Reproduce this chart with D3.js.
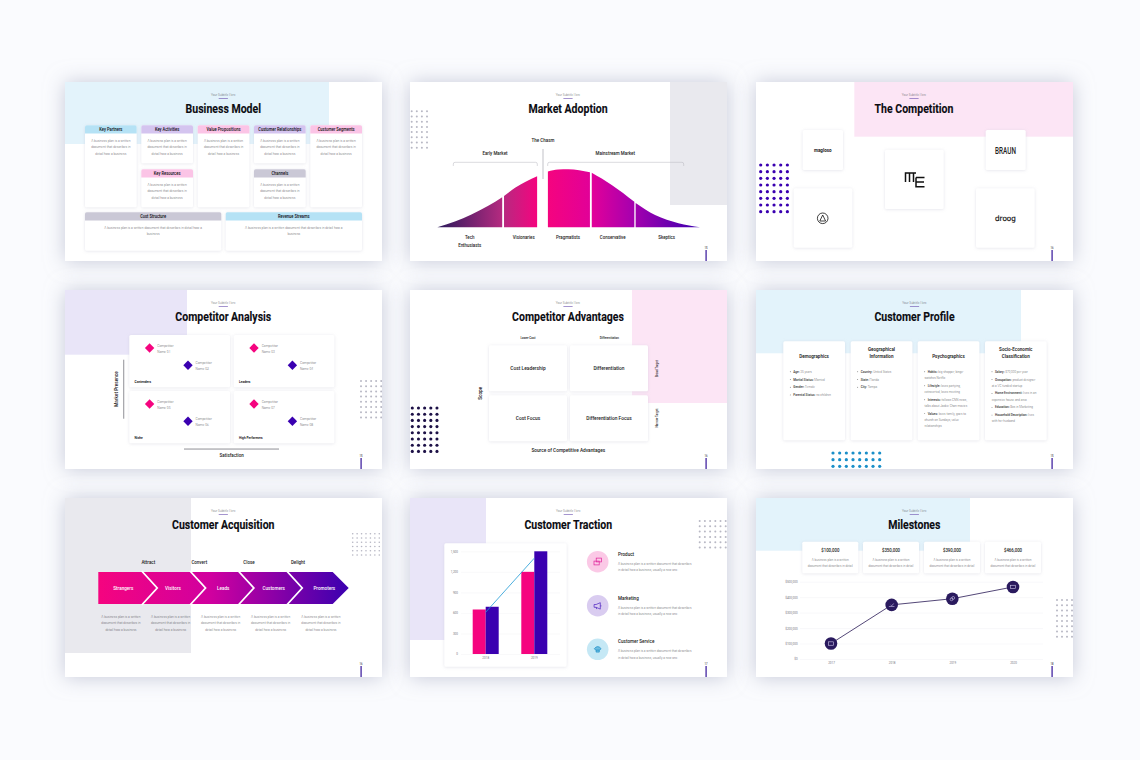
<!DOCTYPE html>
<html>
<head>
<meta charset="utf-8">
<title>Slides</title>
<script src="https://cdn.jsdelivr.net/npm/d3@7"></script>
<style>
  html, body { margin: 0; padding: 0; background: #fafbfe; }
  svg { display: block; }
  text { font-family: Roboto, sans-serif; }
</style>
</head>
<body>
<svg id="chart" width="1140" height="760"></svg>
<script>
// slide titles, left to right and top to bottom
var slideTitles = ["Business Model", "Market Adoption", "The Competition", "Competitor Analysis", "Competitor Advantages", "Customer Profile", "Customer Acquisition", "Customer Traction", "Milestones"];
var slideNumbers = ["", "15", "16", "15", "16", "15", "16", "17", "18"];

// business model
var blurb = ["A business plan is a written", "document that describes in", "detail how a business"];
var wideBlurb = ["A business plan is a written document that describes in detail how a", "business"];
var modelColumns = ["Key Partners", "Key Activities", "Value Propositions", "Customer Relationships", "Customer Segments"];
var modelLower = ["Key Resources", "Channels"];
var modelWide = ["Cost Structure", "Revenue Streams"];

// market adoption curve: share of width, share of peak height
var adoptionSegments = ["Tech Enthusiasts", "Visionaries", "Pragmatists", "Conservative", "Skeptics"];
var adoptionX = [
  [0, 6.7, 13, 19.4, 24.7],
  [25.4, 29.6, 38],
  [42.1, 46, 49.9, 54, 58.1],
  [58.8, 66.4, 75],
  [75.5, 82.9, 91.8, 100]
];
var adoptionY = [
  [0, 0.1, 0.22, 0.37, 0.52],
  [0.54, 0.68, 0.88],
  [0.96, 0.995, 1, 0.985, 0.95],
  [0.94, 0.73, 0.44],
  [0.42, 0.21, 0.07, 0]
];

// competition logos
var logoNames = ["magloso", "BRAUN", "droog"];

// competitor analysis
var quadrants = ["Contenders", "Leaders", "Niche", "High Performers"];
var competitorNames = [["01", "02"], ["03", "04"], ["05", "06"], ["07", "08"]];

// competitor advantages
var advantageCells = ["Cost Leadership", "Differentiation", "Cost Focus", "Differentiation Focus"];
var advantageColumns = ["Lower Cost", "Differentiation"];
var advantageRows = ["Broad Target", "Narrow Target"];

// customer profile, each item is [label, first line, more lines...]
var profileTitles = [["Demographics"], ["Geographical", "Information"], ["Psychographics"], ["Socio-Economic", "Classification"]];
var profileDemographics = [["Age:", "35 years"], ["Marital Status:", "Married"], ["Gender:", "Female"], ["Parental Status:", "no children"]];
var profileGeographic = [["Country:", "United States"], ["State:", "Florida"], ["City:", "Tampa"]];
var profilePsycho = [
  ["Habits:", "big shopper, binge-", "watches Netflix"],
  ["Lifestyle:", "loves partying,", "extroverted, loves meeting"],
  ["Interests:", "follows CNN news,", "talks about Jackie Chan movies"],
  ["Values:", "loves family, goes to", "church on Sundays, value", "relationships"]
];
var profileSocio = [
  ["Salary:", "$70,000 per year"],
  ["Occupation:", "product designer", "at a VC funded startup"],
  ["Home Environment:", "lives in an", "expensive house and area"],
  ["Education:", "Bcs in Marketing"],
  ["Household Description:", "lives", "with her husband"]
];

// customer acquisition
var funnelStages = ["Strangers", "Visitors", "Leads", "Customers", "Promoters"];
var funnelActions = ["Attract", "Convert", "Close", "Delight"];

// customer traction
var tractionYears = ["2018", "2019"];
var tractionSeries = ["a", "b"];
var tractionA = [650, 1200];
var tractionB = [690, 1500];
var tractionLine = [610, 1400];
var tractionTicks = [0, 300, 600, 900, 1200, 1500];
var tractionItems = ["Product", "Marketing", "Customer Service"];
var tractionBlurb = ["A business plan is a written document that describes", "in detail how a business, usually a new one."];

// milestones
var milestoneYears = ["2017", "2018", "2019", "2020"];
var milestoneValues = [100000, 350000, 390000, 466000];
var milestoneLabels = ["$100,000", "$350,000", "$390,000", "$466,000"];
var milestoneTicks = [0, 100000, 200000, 300000, 400000, 500000];
var milestoneBlurb = ["A business plan is a written", "document that describes in detail"];

var pink = "#f5047f", purple = "#3a00b0", navy = "#2a1a5e";
var grey = "#8d8d96", ink = "#0c0c12";

var bodySize = 3.3;
var bodyText = { weight: 300, colour: "#5f5f68" };
var bodyLeft = { weight: 300, colour: "#5f5f68", anchor: "start" };
var midLabel = { weight: 500, colour: "#222", cond: 0.9 };

var svg = d3.select("#chart");
var defs = svg.append("defs");

/// shadows
function addShadow(id, blur, colour, opacity) {
  var f = defs.append("filter").attr("id", id)
    .attr("x", "-30%").attr("y", "-30%").attr("width", "160%").attr("height", "160%");
  f.append("feDropShadow").attr("dx", 0).attr("dy", 0.5).attr("stdDeviation", blur)
    .attr("flood-color", colour).attr("flood-opacity", opacity);
}
addShadow("slideShadow", 10, "#a9aec2", 0.65);
addShadow("cardShadow", 1.6, "#b9b9cc", 0.4);

/// gradients
function addGradient(id, stops, x1, x2) {
  var g = defs.append("linearGradient").attr("id", id)
    .attr("gradientUnits", "userSpaceOnUse")
    .attr("x1", x1).attr("x2", x2).attr("y1", 0).attr("y2", 0);
  stops.forEach(function (s) {
    g.append("stop").attr("offset", s[0]).attr("stop-color", s[1]);
  });
}
addGradient("adoptionLeft", [[0, "#2b1a5c"], [0.65, "#b52a80"], [1, pink]], 27.3, 127.3);
addGradient("adoptionRight", [[0, pink], [0.3, "#e0009a"], [0.55, "#a800ae"], [1, purple]], 138, 290);
addGradient("funnelFill", [[0, pink], [0.45, "#d0009f"], [1, purple]], 33, 284);

/// text helper, cond squeezes Roboto to look like the condensed cut in the picture
function label(g, str, x, y, size, opts) {
  opts = opts || {};
  var t = g.append("text").attr("x", x).attr("y", y)
    .attr("font-size", size)
    .attr("font-weight", opts.weight || 400)
    .attr("fill", opts.colour || grey)
    .attr("text-anchor", opts.anchor || "middle")
    .text(str);
  if (opts.family) t.style("font-family", opts.family);
  if (opts.rotate) t.attr("transform", "rotate(" + opts.rotate + " " + x + " " + y + ")");
  if (opts.heavy) t.attr("stroke", opts.colour).attr("stroke-width", opts.heavy);
  if (opts.cond) {
    var w = t.node().getComputedTextLength();
    t.attr("textLength", w * opts.cond).attr("lengthAdjust", "spacingAndGlyphs");
  }
  return t;
}

function lines(g, list, x, y, step, size, opts) {
  list.forEach(function (s, i) { label(g, s, x, y + i * step, size, opts); });
}

function card(g, x, y, w, h) {
  return g.append("rect").attr("x", x).attr("y", y).attr("width", w).attr("height", h)
    .attr("rx", 1.6).attr("fill", "#fff").attr("filter", "url(#cardShadow)");
}

function dots(g, x0, y0, dx, dy, cols, rows, r, colour) {
  d3.range(rows).forEach(function (j) {
    d3.range(cols).forEach(function (i) {
      g.append("circle").attr("cx", x0 + i * dx).attr("cy", y0 + j * dy).attr("r", r).attr("fill", colour);
    });
  });
}

function block(g, x, y, w, h, colour) {
  g.append("rect").attr("x", x).attr("y", y).attr("width", w).attr("height", h).attr("fill", colour);
}

/// build the nine slide frames, returns the content group
var slideW = 317, slideH = 179;
var slideX = [65, 410, 756], slideY = [82, 290, 498];

function makeSlide(i) {
  var x = slideX[i % 3], y = slideY[Math.floor(i / 3)];
  var outer = svg.append("g").attr("transform", "translate(" + x + "," + y + ")");
  outer.append("rect").attr("width", slideW).attr("height", slideH).attr("fill", "#fff").attr("filter", "url(#slideShadow)");
  defs.append("clipPath").attr("id", "clip" + i).append("rect").attr("width", slideW).attr("height", slideH);
  return outer.append("g").attr("clip-path", "url(#clip" + i + ")");
}

function slideHeader(g, i, cx) {
  label(g, "Your Subtitle Here", cx, 13.6, 3.1, { weight: 300, colour: "#5f5f68" });
  g.append("rect").attr("x", cx - 4.6).attr("y", 16).attr("width", 9.2).attr("height", 0.6).attr("fill", "#6a4fb0");
  label(g, slideTitles[i], cx, 30.8, 13, { weight: 700, colour: ink, cond: 0.81, heavy: 0.12 });
  if (slideNumbers[i]) {
    label(g, slideNumbers[i], 296, 166.5, 2.6, { colour: "#444", weight: 500 });
    block(g, 295.4, 168, 1.4, 11, "#5236a8");
  }
}

var slides = slideTitles.map(function (d, i) { return makeSlide(i); });

/// BUSINESS MODEL
(function () {
  var g = slides[0];
  block(g, 0, 0, 264, 62, "#e3f3fb");
  slideHeader(g, 0, 158.3);
  var colX = [20, 76.3, 132.7, 189, 245.3];
  var colW = 51.7;
  var headColours = ["#b5e2f5", "#d4c4ef", "#fbc4e6", "#d4c4ef", "#fbc4e6"];

  function modelCard(x, y, w, h, head, colour, text) {
    card(g, x, y, w, h);
    g.append("path")
      .attr("d", "M" + x + "," + (y + 8.2) + "V" + (y + 1.6) + "q0,-1.6 1.6,-1.6H" + (x + w - 1.6) + "q1.6,0 1.6,1.6V" + (y + 8.2) + "Z")
      .attr("fill", colour);
    label(g, head, x + w / 2, y + 5.7, 4.7, { weight: 500, colour: ink, cond: 0.86 });
    lines(g, text, x + w / 2, y + 16.2, 6.6, bodySize, bodyText);
  }

  modelColumns.forEach(function (name, i) {
    var short = i === 1 || i === 3;
    modelCard(colX[i], 43.3, colW, short ? 38 : 82, name, headColours[i], blurb);
  });
  modelCard(colX[1], 87.3, colW, 38, modelLower[0], "#fbc4e6", blurb);
  modelCard(colX[3], 87.3, colW, 38, modelLower[1], "#cac8d6", blurb);
  modelCard(20, 130.3, 136.3, 38.4, modelWide[0], "#cac8d6", wideBlurb);
  modelCard(160.7, 130.3, 136.3, 38.4, modelWide[1], "#b5e2f5", wideBlurb);
})();

/// MARKET ADOPTION
(function () {
  var g = slides[1];
  block(g, 260, 0, 57, 123, "#e9e9ee");
  slideHeader(g, 1, 158);
  dots(g, 1.7, 29.3, 5.1, 5.2, 4, 8, 1, "#b8b8c4");

  label(g, "The Chasm", 133, 60, 5, midLabel);
  label(g, "Early Market", 85, 73.4, 5, midLabel);
  label(g, "Mainstream Market", 205.3, 73.4, 5, midLabel);

  // brackets and chasm marker
  [[43.3, 127.3], [137.7, 273.7]].forEach(function (b) {
    g.append("path")
      .attr("d", "M" + b[0] + ",84V" + 82 + "q0,-1.7 1.7,-1.7H" + (b[1] - 1.7) + "q1.7,0 1.7,1.7V84")
      .attr("fill", "none").attr("stroke", "#b5b5bc").attr("stroke-width", 0.5);
  });
  block(g, 132.5, 67, 1, 30, "#c2c2c8");

  var x = d3.scaleLinear().domain([0, 100]).range([27.3, 290]);
  var y = d3.scaleLinear().domain([0, 1]).range([145.3, 87.3]);
  var area = d3.area()
    .x(function (d) { return x(d[0]); })
    .y0(y(0))
    .y1(function (d) { return y(d[1]); })
    .curve(d3.curveMonotoneX);

  adoptionSegments.forEach(function (name, i) {
    var pts = d3.zip(adoptionX[i], adoptionY[i]);
    g.append("path").datum(pts).attr("d", area)
      .attr("fill", i < 2 ? "url(#adoptionLeft)" : "url(#adoptionRight)");
  });

  var labelX = [59.7, 113.7, 158, 202.7, 256.7];
  lines(g, ["Tech", "Enthusiasts"], labelX[0], 157.3, 7.4, 4.9, midLabel);
  adoptionSegments.slice(1).forEach(function (name, i) {
    label(g, name, labelX[i + 1], 157.3, 4.9, midLabel);
  });
})();

/// THE COMPETITION
(function () {
  var g = slides[2];
  block(g, 98.3, 0, 220, 54.7, "#fce5f5");
  slideHeader(g, 2, 158);
  dots(g, 4.7, 83, 6.67, 6.67, 5, 8, 1.6, purple);

  card(g, 46.7, 48, 40.3, 40);
  card(g, 229.7, 48, 40, 40);
  card(g, 129, 67.7, 58.7, 59.3);
  card(g, 37.7, 106.3, 58.6, 59.4);
  card(g, 220, 106.3, 58.7, 59.4);

  label(g, logoNames[0], 66.8, 69.6, 4.8, { weight: 700, colour: "#222", cond: 0.95 });
  label(g, logoNames[1], 249.5, 71.8, 8.8, { weight: 500, colour: "#222", cond: 0.72 });
  label(g, logoNames[2], 249.4, 138.6, 7.6, { weight: 400, colour: "#111", family: "'DejaVu Sans'", cond: 0.95, heavy: 0.2 });

  // the ME mark
  g.append("path")
    .attr("d", "M149.5,100V91H160M153.5,100V91M157.5,100V91M160,95.5V104.7H168.5M160,95.5H168.5M160,100H168")
    .attr("fill", "none").attr("stroke", "#111").attr("stroke-width", 1.5);
  // the circled A mark
  g.append("circle").attr("cx", 66.7).attr("cy", 136.3).attr("r", 5.3)
    .attr("fill", "none").attr("stroke", "#111").attr("stroke-width", 0.8);
  g.append("path").attr("d", "M63.8,139L66.7,133L69.6,139Z")
    .attr("fill", "none").attr("stroke", "#111").attr("stroke-width", 0.8);
})();

/// COMPETITOR ANALYSIS
(function () {
  var g = slides[3];
  block(g, 0, 0, 122, 64.7, "#e9e5f8");
  slideHeader(g, 3, 158.3);
  dots(g, 296, 91, 5.05, 5.2, 5, 8, 1, "#b8b8c4");

  var cellX = [64.3, 168.7], cellY = [45, 101];
  var diamond = d3.symbol().type(d3.symbolSquare).size(44);

  quadrants.forEach(function (name, i) {
    var cx = cellX[i % 2], cy = cellY[Math.floor(i / 2)];
    card(g, cx, cy, 100.7, 52.3);
    [[20.3, 13, pink, 28, 12], [58.7, 30.3, purple, 66.3, 29]].forEach(function (m, k) {
      g.append("path").attr("d", diamond)
        .attr("transform", "translate(" + (cx + m[0]) + "," + (cy + m[1]) + ") rotate(45)")
        .attr("fill", m[2]);
      lines(g, ["Competitor", "Name " + competitorNames[i][k]], cx + m[3], cy + m[4], 6.2, bodySize, bodyLeft);
    });
    label(g, name, cx + 5.3, cy + 48.3, 3.2, { anchor: "start", weight: 600, colour: ink });
  });

  block(g, 58, 69.7, 1.3, 59, "#a9a9ae");
  block(g, 119, 158.4, 95, 1.3, "#a9a9ae");
  label(g, "Market Presence", 53.4, 99, 5.2, { weight: 500, colour: "#222", rotate: -90, cond: 0.9 });
  label(g, "Satisfaction", 166.7, 167.2, 5, midLabel);
})();

/// COMPETITOR ADVANTAGES
(function () {
  var g = slides[4];
  block(g, 222, 0, 95, 113, "#fce5f5");
  slideHeader(g, 4, 158);
  dots(g, 2.3, 118, 6.17, 6.2, 5, 8, 1.55, "#1d1147");

  var cellX = [79, 160], cellY = [55.3, 105.3];
  advantageCells.forEach(function (name, i) {
    var cx = cellX[i % 2], cy = cellY[Math.floor(i / 2)];
    card(g, cx, cy, 78, 46);
    label(g, name, cx + 39, cy + 25, 5.4, midLabel);
  });
  advantageColumns.forEach(function (name, i) {
    label(g, name, [118, 199.3][i], 49.2, 3, { weight: 500, colour: "#222" });
  });
  advantageRows.forEach(function (name, i) {
    label(g, name, 247.6, [78.7, 128][i], 3, { weight: 500, colour: "#222", rotate: -90 });
  });
  label(g, "Scope", 71.6, 103.3, 5.2, { weight: 500, colour: "#222", rotate: -90, cond: 0.9 });
  label(g, "Source of Competitive Advantages", 158.3, 162.4, 5.3, midLabel);
})();

/// CUSTOMER PROFILE
(function () {
  var g = slides[5];
  block(g, 0, 0, 265, 63.3, "#e3f3fb");
  slideHeader(g, 5, 158.5);
  dots(g, 77, 163, 6.67, 6.67, 8, 3, 1.6, "#1a8fc9");

  var cardX = [27.3, 94.7, 161.7, 229];
  var lists = [profileDemographics, profileGeographic, profilePsycho, profileSocio];

  cardX.forEach(function (cx, i) {
    card(g, cx, 51.3, 61.7, 99);
    var head = profileTitles[i];
    var y0 = head.length === 1 ? 68 : 61.4;
    lines(g, head, cx + 30.8, y0, 6.7, 5.2, { weight: 600, colour: "#222", cond: 0.88 });

    var y = 82.8;
    lists[i].forEach(function (item) {
      g.append("circle").attr("cx", cx + 7).attr("cy", y - 1).attr("r", 0.45).attr("fill", "#444");
      var t = g.append("text").attr("x", cx + 10).attr("y", y).attr("font-size", 3.1).attr("font-weight", 300).attr("fill", "#5f5f68");
      t.append("tspan").attr("font-weight", 500).attr("fill", "#333").text(item[0] + " ");
      t.append("tspan").text(item[1]);
      item.slice(2).forEach(function (s) {
        y += 6.25;
        label(g, s, cx + 6.7, y, 3.1, bodyLeft);
      });
      y += 7.7;
    });
  });
})();

/// CUSTOMER ACQUISITION
(function () {
  var g = slides[6];
  block(g, 0, 0, 126, 155, "#e9e9ee");
  slideHeader(g, 6, 158.3);
  dots(g, 287.7, 35.7, 4.43, 4.27, 7, 6, 0.8, "#b5b5c2");

  g.append("path").attr("d", "M33.3,74H267.7L283.7,90L267.7,106H33.3Z").attr("fill", "url(#funnelFill)");
  [76.7, 125, 173.3, 221.7].forEach(function (x) {
    g.append("path").attr("d", "M" + x + ",73L" + (x + 15.5) + ",90L" + x + ",107")
      .attr("fill", "none").attr("stroke", "#fff").attr("stroke-width", 1.8);
  });

  var stageX = [58.3, 108, 158.3, 208.7, 259.3];
  funnelStages.forEach(function (name, i) {
    label(g, name, stageX[i], 92, 5, { weight: 500, colour: "#fff", cond: 0.92 });
  });
  var actionX = [83.3, 134.3, 184, 233];
  funnelActions.forEach(function (name, i) {
    label(g, name, actionX[i], 65.8, 5, midLabel);
  });
  var noteX = [56, 105.7, 155.7, 205.7, 256];
  noteX.forEach(function (x) {
    lines(g, blurb, x, 119.6, 6.6, bodySize, bodyText);
  });
})();

/// CUSTOMER TRACTION
(function () {
  var g = slides[7];
  block(g, 0, 0, 76, 142, "#e9e5f8");
  slideHeader(g, 7, 158.3);
  dots(g, 289.7, 23, 5.2, 5.3, 6, 6, 1, "#b8b8c4");
  card(g, 34.3, 45.3, 122.4, 123.4);

  var x = d3.scaleBand().domain(tractionYears).range([51.4, 148.6]);
  var y = d3.scaleLinear().domain([0, 1500]).range([156, 53.3]);

  // axes first so that the bars sit on the grid
  var yAxis = g.append("g").attr("transform", "translate(51,0)")
    .call(d3.axisLeft(y).tickValues(tractionTicks).tickSize(-99).tickPadding(3));
  var xAxis = g.append("g").attr("transform", "translate(0,156)")
    .call(d3.axisBottom(x).tickSize(0).tickPadding(3));
  [yAxis, xAxis].forEach(function (a) {
    a.select(".domain").remove();
    a.selectAll("text").attr("font-size", 3).attr("fill", "#77777f").style("font-family", "Roboto");
    a.selectAll("line").attr("stroke", "#f2f2f5").attr("stroke-width", 0.5);
  });

  var inner = d3.scaleBand().domain(tractionSeries).range([-13, 13]);
  var values = { a: tractionA, b: tractionB };
  var colours = { a: pink, b: purple };
  tractionSeries.forEach(function (s) {
    g.selectAll(".bar-" + s).data(values[s]).enter().append("rect")
      .attr("class", "bar-" + s)
      .attr("x", function (d, i) { return x(tractionYears[i]) + x.bandwidth() / 2 + inner(s); })
      .attr("y", function (d) { return y(d); })
      .attr("width", inner.bandwidth())
      .attr("height", function (d) { return y(0) - y(d); })
      .attr("fill", colours[s]);
  });

  var line = d3.line()
    .x(function (d, i) { return x(tractionYears[i]) + x.bandwidth() / 2; })
    .y(function (d) { return y(d); });
  g.append("path").datum(tractionLine).attr("d", line)
    .attr("fill", "none").attr("stroke", "#1f9ad6").attr("stroke-width", 0.8);

  var rowY = [63.7, 107.7, 151.3];
  var discColours = ["#fbc9e6", "#d9ccf0", "#c5e8f5"];
  var iconColours = ["#e0229a", "#4a1fc0", "#1a8fc9"];
  tractionItems.forEach(function (name, i) {
    g.append("circle").attr("cx", 187.7).attr("cy", rowY[i]).attr("r", 10.8).attr("fill", discColours[i]);
    var ic = g.append("g").attr("transform", "translate(187.7," + rowY[i] + ")")
      .attr("fill", "none").attr("stroke", iconColours[i]).attr("stroke-width", 0.7);
    if (i === 0) {
      ic.append("rect").attr("x", -1.5).attr("y", -3.6).attr("width", 5.2).attr("height", 3.8);
      ic.append("rect").attr("x", -3.7).attr("y", -0.6).attr("width", 5.2).attr("height", 3.8);
    } else if (i === 1) {
      ic.append("path").attr("d", "M-3.6,-1.2V1.6H-1.6L2.6,3.4V-3L-1.6,-1.2ZM2.6,0.2H3.8M-1.6,1.6L-1,3.4");
    } else {
      ic.append("path").attr("d", "M-3.4,-0.6Q0,-4.8 3.4,-0.6L2,0.8H-2ZM-1.6,0.8V2.8H1.6V0.8").attr("fill", iconColours[i]).attr("fill-opacity", 0.5);
    }
    label(g, name, 208, rowY[i] - 6, 5.1, { anchor: "start", weight: 500, colour: "#222", cond: 0.9 });
    lines(g, tractionBlurb, 208, rowY[i] + 3, 6.6, 3.2, bodyLeft);
  });
})();

/// MILESTONES
(function () {
  var g = slides[8];
  block(g, 0, 0, 214, 52.7, "#e3f3fb");
  slideHeader(g, 8, 158.3);
  dots(g, 301, 102, 5, 5.25, 4, 8, 1, "#b8b8c4");

  var cardX = [46.3, 107, 168, 229];
  milestoneLabels.forEach(function (name, i) {
    card(g, cardX[i], 43.7, 56, 31.6);
    label(g, name, cardX[i] + 28, 53.7, 4.8, { weight: 500, colour: "#222", cond: 0.9 });
    lines(g, milestoneBlurb, cardX[i] + 28, 62.6, 6.6, 3.1, bodyText);
  });

  var x = d3.scalePoint().domain(milestoneYears).range([75, 257]);
  var y = d3.scaleLinear().domain([0, 500000]).range([161, 83.7]);

  var yAxis = g.append("g").attr("transform", "translate(44,0)")
    .call(d3.axisLeft(y).tickValues(milestoneTicks).tickSize(-243).tickPadding(2.4)
      .tickFormat(function (d) { return "$" + d3.format(",")(d); }));
  var xAxis = g.append("g").attr("transform", "translate(0,161)")
    .call(d3.axisBottom(x).tickSize(0).tickPadding(3));
  [yAxis, xAxis].forEach(function (a) {
    a.select(".domain").remove();
    a.selectAll("text").attr("font-size", 3).attr("fill", "#77777f").style("font-family", "Roboto");
    a.selectAll("line").attr("stroke", "#f0f0f4").attr("stroke-width", 0.5);
  });

  var line = d3.line()
    .x(function (d, i) { return x(milestoneYears[i]); })
    .y(function (d) { return y(d); });
  g.append("path").datum(milestoneValues).attr("d", line)
    .attr("fill", "none").attr("stroke", "#3f3268").attr("stroke-width", 0.9);

  g.selectAll(".milestone").data(milestoneValues).enter().append("circle")
    .attr("class", "milestone")
    .attr("cx", function (d, i) { return x(milestoneYears[i]); })
    .attr("cy", function (d) { return y(d); })
    .attr("r", 6.3)
    .attr("fill", navy);

  // small glyph inside every node
  milestoneValues.forEach(function (d, i) {
    var ic = g.append("g")
      .attr("transform", "translate(" + x(milestoneYears[i]) + "," + y(d) + ")")
      .attr("fill", "none").attr("stroke", "#cfc8ec").attr("stroke-width", 0.6);
    if (i === 0 || i === 3) {
      ic.append("rect").attr("x", -2.6).attr("y", -1.7).attr("width", 5.2).attr("height", 3.4);
    } else if (i === 1) {
      ic.append("path").attr("d", "M-2.8,1.6H2.8M-1,0.2L0,1L2,-1.4");
    } else {
      ic.append("circle").attr("cx", -0.8).attr("cy", 0.6).attr("r", 1.4);
      ic.append("circle").attr("cx", 0.9).attr("cy", -0.8).attr("r", 1.4);
    }
  });
})();
</script>
</body>
</html>
